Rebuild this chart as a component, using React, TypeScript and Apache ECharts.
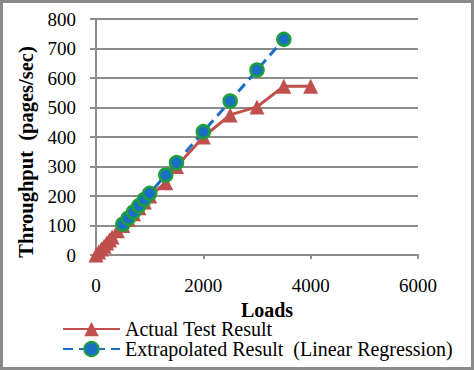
import React, { useEffect, useRef } from "react";
import * as echarts from "echarts";

const actualLoads = [0, 50, 100, 150, 200, 250, 300, 400, 500, 600, 700, 800, 900, 1000, 1300, 1500, 2000, 2500, 3000, 3500, 4000];
const actualThroughput = [0, 10, 20, 30, 41, 51, 61, 82, 100, 120, 140, 160, 180, 200, 245, 300, 400, 475, 502, 572, 572];
const extrapLoads = [500, 600, 700, 800, 900, 1000, 1300, 1500, 2000, 2500, 3000, 3500];
const extrapThroughput = [104, 125, 146, 167, 188, 209, 271, 313, 418, 522, 627, 731];

const seriesNames = ["Actual Test Result", "Extrapolated Result  (Linear Regression)"];
const xTitle = "Loads";
const yTitle = "Throughput  (pages/sec)";

const FONT = "Times New Roman";

export default function App() {
  const ref = useRef<HTMLDivElement>(null);
  useEffect(() => {
    if (!ref.current) return;
    const chart = echarts.init(ref.current, null, { renderer: "svg" });
    const gridColor = "#8c8c8c";
    chart.setOption({
      animation: false,
      backgroundColor: "#ffffff",
      textStyle: { fontFamily: FONT },
      grid: { left: 96, right: 56, top: 19, bottom: 115 },
      graphic: [
        {
          type: "rect",
          shape: { x: 1.5, y: 1.5, width: 471, height: 367 },
          style: { fill: "none", stroke: "#8a8a8a", lineWidth: 3 },
          z: 100,
        },
      ],
      xAxis: {
        type: "value",
        min: 0,
        max: 6000,
        interval: 2000,
        name: xTitle,
        nameLocation: "middle",
        nameGap: 31,
        nameTextStyle: { fontFamily: FONT, fontSize: 20, lineHeight: 20, fontWeight: "bold", color: "#000", padding: [0, 0, 0, 20] },
        axisLine: { show: true, lineStyle: { color: gridColor, width: 2 } },
        axisTick: { show: true, length: 4, lineStyle: { color: gridColor, width: 2 } },
        axisLabel: { margin: 21, fontFamily: FONT, fontSize: 19, color: "#000", formatter: (v: number) => String(v) },
        splitLine: { show: false },
      },
      yAxis: {
        type: "value",
        min: 0,
        max: 800,
        interval: 100,
        name: yTitle,
        nameLocation: "middle",
        nameGap: 59,
        nameTextStyle: { fontFamily: FONT, fontSize: 20.5, fontWeight: "bold", color: "#000", padding: [0, 30, 0, 0] },
        axisLine: { show: true, lineStyle: { color: gridColor, width: 2 } },
        axisTick: { show: true, length: 6, lineStyle: { color: gridColor, width: 2 } },
        axisLabel: { margin: 20, fontFamily: FONT, fontSize: 19, color: "#000", formatter: (v: number) => String(v) },
        splitLine: { show: true, lineStyle: { color: gridColor, width: 2 } },
      },
      legend: {
        orient: "vertical",
        left: 62,
        top: 319,
        padding: 0,
        itemWidth: 57,
        itemHeight: 18,
        itemGap: 0,
        textStyle: { fontFamily: FONT, fontSize: 20, lineHeight: 20, color: "#000" },
        data: seriesNames,
      },
      series: [
        {
          name: seriesNames[0],
          type: "line",
          data: actualLoads.map((x, i) => [x, actualThroughput[i]]),
          symbol: "triangle",
          symbolSize: 15,
          itemStyle: { color: "#c0504d" },
          lineStyle: { color: "#c0504d", width: 3 },
          z: 2,
        },
        {
          name: seriesNames[1],
          type: "line",
          data: extrapLoads.map((x, i) => [x, extrapThroughput[i]]),
          symbol: "circle",
          symbolSize: 13,
          itemStyle: { color: "#1a6fc4", borderColor: "#1f9e3c", borderWidth: 2.5 },
          lineStyle: { color: "#1a6fc4", width: 3, type: [10, 6] },
          z: 3,
        },
      ],
    });
    return () => chart.dispose();
  }, []);
  return (
    <div
      ref={ref}
      style={{ position: "fixed", left: 0, top: 0, width: 474, height: 370 }}
    />
  );
}
